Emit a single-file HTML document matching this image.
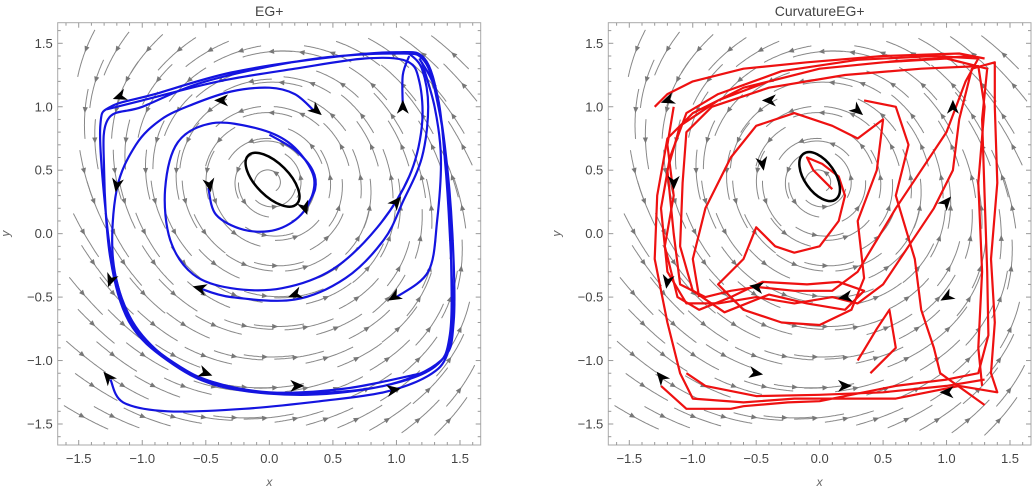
<!DOCTYPE html>
<html><head><meta charset="utf-8"><style>
body{margin:0;background:#fff;}
svg text{font-family:"Liberation Sans",sans-serif;}
</style></head><body>
<svg id="chart" width="1036" height="498" viewBox="0 0 1036 498" xmlns="http://www.w3.org/2000/svg"></svg>
<script>
const ticks = [-1.5,-1.0,-0.5,0.0,0.5,1.0,1.5];
const tickLabels = ["\u22121.5","\u22121.0","\u22120.5","0.0","0.5","1.0","1.5"];
const titles = ["EG+","CurvatureEG+"];
const blueTraj = [
 [[-1.25,-1.15],[-1.15,-1.33],[-0.8,-1.4],[-0.2,-1.38],[0.4,-1.32],[0.9,-1.25],[1.25,-1.12],[1.4,-0.95],[1.44,-0.6],[1.42,0],[1.38,0.6],[1.33,1.05],[1.22,1.38],[1.0,1.43],[0.4,1.38],[-0.3,1.27],[-0.9,1.1],[-1.25,1.0],[-1.33,0.85],[-1.3,0.3],[-1.22,-0.3],[-1.05,-0.75],[-0.7,-1.05],[-0.3,-1.22],[0.3,-1.27],[0.9,-1.2],[1.3,-1.05],[1.42,-0.8],[1.43,-0.2],[1.4,0.5],[1.33,1.0],[1.22,1.36],[1.0,1.42],[0.3,1.37],[-0.5,1.2],[-1.0,1.0],[-1.27,0.9],[-1.3,0.5],[-1.25,-0.2],[-1.1,-0.7],[-0.8,-1.0],[-0.4,-1.2],[0.2,-1.26],[0.9,-1.2],[1.35,-1.0],[1.45,-0.7],[1.44,0],[1.38,0.7],[1.3,1.15],[1.18,1.38]],
 [[-0.48,0.36],[-0.42,0.15],[-0.2,0.03],[0.05,0.03],[0.25,0.15],[0.35,0.35],[0.32,0.52],[0.15,0.72],[-0.1,0.83],[-0.45,0.87],[-0.72,0.72],[-0.82,0.35],[-0.78,-0.05],[-0.6,-0.32],[-0.3,-0.43],[0.1,-0.43],[0.5,-0.28],[0.85,0.05],[1.1,0.45],[1.2,0.85],[1.18,1.2],[1.08,1.36],[0.75,1.38],[0.2,1.3],[-0.4,1.2],[-1.0,1.05],[-1.28,0.98]],
 [[0.35,0.97],[0.2,1.1],[0,1.15],[-0.3,1.12],[-0.6,1.02],[-0.85,0.9],[-1.05,0.7],[-1.2,0.35],[-1.23,-0.2],[-1.1,-0.65],[-0.85,-0.95],[-0.5,-1.15],[0,-1.25],[0.6,-1.22],[1.2,-1.1]],
 [[-0.55,-0.43],[-0.3,-0.5],[0.2,-0.52],[0.6,-0.35],[0.9,-0.05],[1.05,0.25],[1.2,0.6],[1.25,1.0],[1.2,1.3],[1.1,1.42]],
 [[1.0,-0.5],[1.25,-0.3],[1.32,0.1],[1.35,0.6],[1.3,1.0],[1.2,1.35]],
 [[1.05,1.0],[1.05,1.25],[1.1,1.4]],
 [[0.28,0.2],[0.36,0.35],[0.34,0.5],[0.2,0.66],[0,0.78]]
];
const redTraj = [
 [[-1.25,-1.2],[-1.05,-1.38],[-0.7,-1.38],[-0.6,-1.36],[-0.25,-1.33],[0,-1.32],[0.2,-1.28],[0.6,-1.2],[1.0,-1.15],[1.25,-1.1],[1.33,-0.8],[1.32,-0.3],[1.3,0.3],[1.28,0.9],[1.32,1.3],[1.0,1.38],[0.5,1.35],[0,1.3],[-0.4,1.2],[-0.8,1.05],[-1.1,0.85],[-1.2,0.5],[-1.15,0.0],[-1.1,-0.4],[-0.9,-0.5],[-0.7,-0.45],[-0.5,-0.42],[-0.2,-0.45],[0.1,-0.45],[0.3,-0.3],[0.45,-0.05],[0.6,0.2],[0.8,0.5],[1.0,0.8],[1.15,1.2],[1.25,1.38],[0.9,1.4],[0.3,1.37],[-0.3,1.28],[-0.8,1.1],[-1.05,0.95],[-1.18,0.6],[-1.25,0.2],[-1.2,-0.3],[-1.05,-0.55],[-0.8,-0.55],[-0.5,-0.5],[-0.2,-0.55],[0.1,-0.5],[0.3,-0.55],[0.5,-0.4],[0.7,-0.1],[0.9,0.2],[1.05,0.5],[1.1,0.9],[1.2,1.3],[1.38,1.35],[1.38,1.0],[1.4,0.4],[1.35,-0.2],[1.38,-0.7],[1.35,-1.1],[1.4,-1.25],[1.1,-1.2],[0.6,-1.3],[0.1,-1.3],[-0.2,-1.3],[-0.6,-1.33],[-1.0,-1.3],[-1.1,-1.1],[-1.2,-0.7],[-1.3,-0.2],[-1.28,0.3],[-1.2,0.75],[-1.0,0.95],[-0.6,1.15],[0,1.3],[0.6,1.36],[1.2,1.4]],
 [[0.1,0.35],[-0.05,0.5],[-0.1,0.6],[0.02,0.55],[0.15,0.45],[0.2,0.3],[0.15,0.1],[0.0,-0.1],[-0.2,-0.15],[-0.35,-0.1],[-0.5,0.05],[-0.6,-0.2],[-0.8,-0.4],[-0.6,-0.6],[-0.3,-0.7],[0.0,-0.72],[0.25,-0.6],[0.35,-0.35],[0.3,0.1],[0.45,0.5],[0.5,0.9],[0.3,0.75],[0.1,0.85],[-0.2,0.95],[-0.5,0.85],[-0.7,0.6],[-0.9,0.2],[-1.0,-0.2],[-0.95,-0.5]],
 [[0.35,1.05],[0.6,1.0],[0.7,0.7],[0.6,0.3],[0.75,-0.2],[0.8,-0.6],[0.9,-0.9],[0.95,-1.1],[1.3,-1.35]],
 [[0.3,-1.0],[0.45,-0.75],[0.55,-0.6],[0.6,-0.9],[0.4,-1.1]],
 [[-1.3,1.0],[-1.2,1.1],[-1.0,1.2],[-0.6,1.3],[-0.1,1.35],[0.5,1.4],[1.1,1.42],[1.3,1.38]],
 [[-1.15,1.0],[-1.2,0.7],[-1.15,0.3],[-1.22,-0.1],[-1.12,-0.5],[-0.95,-0.6],[-0.7,-0.5],[-0.45,-0.38],[-0.1,-0.4],[0.15,-0.38],[0.35,-0.45],[0.2,-0.6],[-0.1,-0.55],[-0.4,-0.48],[-0.75,-0.62],[-1.0,-0.45],[-1.1,-0.1],[-1.08,0.4],[-1.05,0.8],[-0.85,1.0],[-0.4,1.15],[0.2,1.25],[0.8,1.3],[1.25,1.32],[1.3,1.0],[1.25,0.4],[1.28,-0.3],[1.25,-0.9],[1.28,-1.2]],
 [[-1.05,-1.1],[-0.9,-1.2],[-0.5,-1.28],[0,-1.27],[0.5,-1.25],[1.0,-1.2],[1.3,-1.15]]
];
const markersL = [[-1.18,1.08,160],[-0.38,1.05,180],[0.37,0.97,40],[1.05,1.0,-90],[-1.2,0.38,100],[-0.47,0.38,80],[0.28,0.2,70],[1.0,0.25,-50],[-1.25,-0.37,110],[-0.55,-0.43,195],[0.2,-0.48,160],[0.98,-0.5,150],[-1.27,-1.13,-130],[-0.5,-1.1,20],[0.22,-1.2,0],[0.98,-1.23,-10]];
const markersR = [[-1.2,1.05,160],[-0.4,1.05,180],[0.3,0.97,40],[1.05,1.0,-90],[-1.15,0.4,90],[-0.45,0.55,80],[1.0,0.25,-50],[-1.2,-0.38,100],[-0.5,-0.42,190],[0.2,-0.5,170],[1.0,-0.5,150],[-1.25,-1.13,-130],[-0.5,-1.1,10],[0.2,-1.2,0],[1.0,-1.25,180]];
const cycles = [[0.025,0.425,0.27,0.13,-45],[0.0,0.45,0.22,0.12,-55]];

const svg=document.getElementById('chart');
const NS="http://www.w3.org/2000/svg";
function mk(tag,attrs,parent){const e=document.createElementNS(NS,tag);for(const k in attrs)e.setAttribute(k,attrs[k]);(parent||svg).appendChild(e);return e;}
function field(x,y){return [-(y-0.4)-0.15*x*x*x, x+0.1*(y-0.4)*(1-y*y)];}

function panel(idx,left,right,xm1,xp1,traj,color,smooth,markers){
  const g=mk('g',{});
  
  
  const top=22.7,bottom=445,ym=424,yp=43.3;
  const sx=(xp1-xm1)/3, cx=(xp1+xm1)/2, sy=(ym-yp)/3, cy=(ym+yp)/2;
  const X=x=>cx+sx*x, Y=y=>cy-sy*y;
  const clipId='clip'+idx;
  const cp=mk('clipPath',{id:clipId},g);mk('rect',{x:left,y:top,width:right-left,height:bottom-top},cp);
  const inner=mk('g',{'clip-path':'url(#'+clipId+')'},g);
  const sl=mk('g',{},inner);
  
  
  function arrowAt(pts,k){
    const a=pts[k],b=pts[k-3];
    const ang=Math.atan2(Y(a[1])-Y(b[1]),X(a[0])-X(b[0]))*180/Math.PI;
    const ah=mk('path',{d:'M0,0L-6,-2.6L-6,2.6Z',fill:'#777',transform:`translate(${X(a[0]).toFixed(1)},${Y(a[1]).toFixed(1)}) rotate(${ang.toFixed(1)})`},sl);
    
    
  }
  for(let i=0;i<13;i++)for(let j=0;j<13;j++){
    let x=-1.45+i*0.24+(j%2)*0.08, y=-1.45+j*0.24;
    const pts=[];let px=x,py=y;
    for(let k=0;k<16;k++){const f=field(px,py);const n=Math.hypot(f[0],f[1])||1;px-=0.012*f[0]/n;py-=0.012*f[1]/n;}
    for(let k=0;k<34;k++){pts.push([px,py]);const f=field(px,py);const n=Math.hypot(f[0],f[1])||1;px+=0.012*f[0]/n;py+=0.012*f[1]/n;}
    const d='M'+pts.map(p=>X(p[0]).toFixed(1)+','+Y(p[1]).toFixed(1)).join('L');
    const line=mk('path',{d:d,fill:'none',stroke:'#888',"stroke-width":1},sl);
    
    
    arrowAt(pts,16);
  }
  traj.forEach(t=>{
    let d;
    if(smooth){
      const P=t.map(p=>[X(p[0]),Y(p[1])]);
      d='M'+P[0][0]+','+P[0][1];
      for(let i=0;i<P.length-1;i++){
        const p0=P[Math.max(i-1,0)],p1=P[i],p2=P[i+1],p3=P[Math.min(i+2,P.length-1)];
        const c1=[p1[0]+(p2[0]-p0[0])/6,p1[1]+(p2[1]-p0[1])/6],c2=[p2[0]-(p3[0]-p1[0])/6,p2[1]-(p3[1]-p1[1])/6];
        d+=`C${c1[0].toFixed(1)},${c1[1].toFixed(1)} ${c2[0].toFixed(1)},${c2[1].toFixed(1)} ${p2[0].toFixed(1)},${p2[1].toFixed(1)}`;
      }
    } else d='M'+t.map(p=>X(p[0]).toFixed(1)+','+Y(p[1]).toFixed(1)).join('L');
    const tr=mk('path',{d:d,fill:'none',stroke:color,"stroke-width":2.2,"stroke-linejoin":"round"},inner);
    
    
  });
  const c=cycles[idx];
  const el=mk('ellipse',{cx:X(c[0]),cy:Y(c[1]),rx:c[2]*sx,ry:c[3]*sy,fill:'none',stroke:'#000',"stroke-width":2.5,transform:`rotate(${-c[4]} ${X(c[0])} ${Y(c[1])})`},inner);
  
  
  markers.forEach(m=>{
    const a=mk('path',{d:'M7,0L-7,-6L-3,0L-7,6Z',fill:'#000',transform:`translate(${X(m[0]).toFixed(1)},${Y(m[1]).toFixed(1)}) rotate(${m[2]})`},inner);
    
    
  });
  const fr=mk('rect',{x:left,y:top,width:right-left,height:bottom-top,fill:'none',stroke:'#aaa',"stroke-width":1},g);
  
  
  for(let k=-16;k<=16;k++){
    const v=k/10, major=(k%5===0);
    const L=major?5:3;
    mk('line',{x1:X(v),x2:X(v),y1:bottom,y2:bottom-L,stroke:'#999'},g);
    mk('line',{x1:X(v),x2:X(v),y1:top,y2:top+L,stroke:'#999'},g);
    mk('line',{x1:left,x2:left+L,y1:Y(v),y2:Y(v),stroke:'#999'},g);
    mk('line',{x1:right,x2:right-L,y1:Y(v),y2:Y(v),stroke:'#999'},g);
  }
  ticks.forEach((v,i)=>{
    const tx=mk('text',{x:X(v),y:bottom+18,"text-anchor":"middle","font-size":13,fill:'#444'},g);
    tx.textContent=tickLabels[i];
    
    
    const ty=mk('text',{x:left-5,y:Y(v)+4.5,"text-anchor":"end","font-size":13,fill:'#444'},g);
    ty.textContent=tickLabels[i];
    
    
  });
  const ti=mk('text',{x:(left+right)/2,y:16,"text-anchor":"middle","font-size":14,fill:'#444'},g);
  ti.textContent=titles[idx];
  
  
  const xl=mk('text',{x:X(0),y:486,"text-anchor":"middle","font-size":12,"font-style":"italic",fill:'#666'},g);
  xl.textContent='x';
  
  
  const yx=left-48, yy=Y(0);
  const yl=mk('text',{x:yx,y:yy,"text-anchor":"middle","font-size":12,"font-style":"italic",fill:'#666',transform:`rotate(-90 ${yx} ${yy})`},g);
  yl.textContent='y';
  
  
}
panel(0,57.7,480.7,78.7,460,blueTraj,'#1414e0',true,markersL);
panel(1,608.3,1031,629.3,1010,redTraj,'#ee1111',false,markersR);
</script>
</body></html>
